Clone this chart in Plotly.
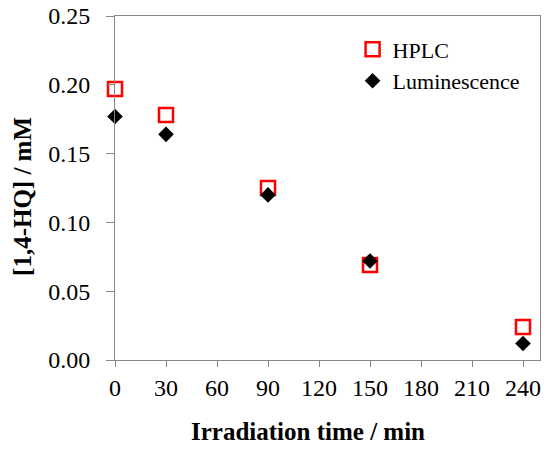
import plotly.graph_objects as go

# Irradiation time (min)
time_min = [0, 30, 90, 150, 240]
# [1,4-HQ] in mM
hplc = [0.197, 0.178, 0.125, 0.069, 0.024]
luminescence = [0.177, 0.164, 0.120, 0.072, 0.012]

x_ticks = [0, 30, 60, 90, 120, 150, 180, 210, 240]
y_ticks = [0.00, 0.05, 0.10, 0.15, 0.20, 0.25]

FONT = "Liberation Serif, Times New Roman, serif"
AXIS_GRAY = "#888888"

fig = go.Figure()

fig.add_trace(go.Scatter(
    x=time_min, y=hplc, name="HPLC", mode="markers",
    marker=dict(symbol="square-open", size=14, color="#ff0000",
                line=dict(color="#ff0000", width=2.5)),
    cliponaxis=False,
))

fig.add_trace(go.Scatter(
    x=time_min, y=luminescence, name="Luminescence", mode="markers",
    marker=dict(symbol="diamond", size=12, color="#000000"),
    cliponaxis=False,
))

# page body adds an 8px margin, so the figure is 8px smaller than the window
fig.update_layout(
    width=542, height=443,
    paper_bgcolor="white",
    plot_bgcolor="white",
    font=dict(family=FONT, color="black", size=22),
    margin=dict(l=107, r=10, t=8, b=91),
    showlegend=True,
    legend=dict(
        x=0.559, y=0.964, xanchor="left", yanchor="top",
        bgcolor="rgba(0,0,0,0)",
        font=dict(size=22, family=FONT),
        itemwidth=30,
        tracegroupgap=0,
    ),
)

fig.update_xaxes(
    range=[0, 250],
    tickvals=x_ticks,
    ticks="outside", ticklen=6, tickcolor=AXIS_GRAY, tickwidth=1,
    showline=True, linecolor=AXIS_GRAY, linewidth=1, mirror=True,
    showgrid=False, zeroline=False,
    automargin=False,
    ticklabeloverflow="allow",
    ticklabelstandoff=0,
    tickfont=dict(size=24, family=FONT),
)

fig.update_yaxes(
    range=[0, 0.25],
    tickvals=y_ticks,
    tickformat=".2f",
    ticks="outside", ticklen=8, tickcolor=AXIS_GRAY, tickwidth=1,
    showline=True, linecolor=AXIS_GRAY, linewidth=1, mirror=True,
    showgrid=False, zeroline=False,
    automargin=False,
    ticklabeloverflow="allow",
    ticklabelstandoff=11,
    tickfont=dict(size=24, family=FONT),
)

# axis titles as annotations: in the original they sit a bit off-centre
fig.add_annotation(
    text="<b>Irradiation time / min</b>",
    xref="paper", yref="paper", x=0.455, y=0,
    xanchor="center", yanchor="top", yshift=-56,
    showarrow=False, font=dict(size=25, family=FONT),
)
fig.add_annotation(
    text="<b>[1,4-HQ] / mM</b>", textangle=-90,
    xref="paper", yref="paper", x=0, y=0.474,
    xanchor="center", yanchor="middle", xshift=-92,
    showarrow=False, font=dict(size=25, family=FONT),
)

fig.write_html("out.html")
